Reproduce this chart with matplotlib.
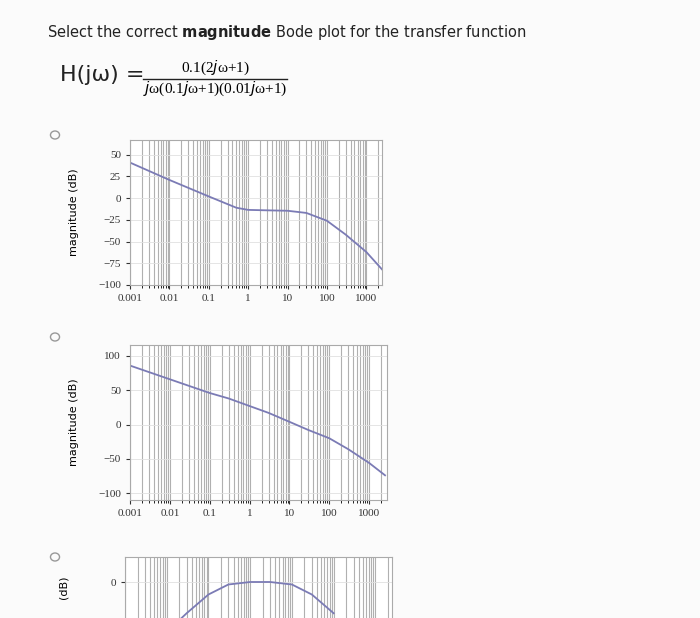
import matplotlib
matplotlib.use("Agg")
import matplotlib.pyplot as plt
from matplotlib.patches import Circle

# data
w1 = [0.001, 0.01, 0.1, 0.5, 1, 3, 10, 30, 100, 300, 1000, 2500]
db1 = [41, 21, 2, -11, -13.5, -14, -14.5, -17, -26, -42, -62, -82]
w2 = [0.001, 0.01, 0.1, 0.3, 1, 3, 10, 30, 100, 300, 1000, 2500]
db2 = [86, 66, 46, 38, 27, 17, 4, -8, -20, -36, -56, -74]
w3 = [0.001, 0.01, 0.03, 0.1, 0.3, 1, 3, 10, 30, 100]
db3 = [-60, -40, -25, -10, -2, 0, 0, -2, -10, -25]
xticks = [0.001, 0.01, 0.1, 1, 10, 100, 1000]
xlabels = ["0.001", "0.01", "0.1", "1", "10", "100", "1000"]
yt1 = [50, 25, 0, -25, -50, -75, -100]
yt2 = [100, 50, 0, -50, -100]

fig = plt.figure(figsize=(7, 6.18), dpi=100)
fig.patch.set_facecolor("#fbfbfb")
serif = "Liberation Serif"
lc = "#7b7bb5"

fig.text(47/700, 1-33/618, "Select the correct $\\bf{magnitude}$ Bode plot for the transfer function",
         fontsize=10.5, va="center", color="#222")
fig.text(60/700, 1-75/618, "H(jω) =", fontsize=16, va="center", color="#222")
fig.text(215/700, 1-68/618, "0.1(2$\\it{j}$ω+1)", fontsize=11, ha="center", va="center", family=serif)
fig.text(215/700, 1-89/618, "$\\it{j}$ω(0.1$\\it{j}$ω+1)(0.01$\\it{j}$ω+1)", fontsize=11, ha="center", va="center", family=serif)
fig.add_artist(plt.Line2D([143/700, 287/700], [1-79/618, 1-79/618], color="#222", lw=1))

for cy in [135, 337, 557]:
    fig.add_artist(Circle((55/700, 1-cy/618), 4/618, transform=fig.transFigure,
                          fill=False, ec="#999", lw=1))

def setup(ax, w, db, ylim, yt, xr):
    ax.semilogx(w, db, color=lc, lw=1.3)
    ax.set_xlim(0.001, xr)
    ax.set_ylim(*ylim)
    ax.set_yticks(yt)
    ax.set_yticklabels([str(v).replace("-", "−") for v in yt], family=serif, fontsize=8)
    ax.set_xticks(xticks)
    ax.set_xticklabels(xlabels, family=serif, fontsize=8)
    ax.grid(True, which="both", axis="x", color="#b0b0b0", lw=0.8)
    ax.grid(True, which="major", axis="y", color="#e0e0e0", lw=0.6)
    for s in ax.spines.values():
        s.set_color("#aaa")
    ax.tick_params(colors="#333", length=3)
    ax.set_facecolor("white")

ax1 = fig.add_axes([130/700, 1-285/618, 252/700, 145/618])
setup(ax1, w1, db1, (-100, 67), yt1, 2500)
ax1.set_ylabel("magnitude (dB)", fontsize=8, labelpad=14)
ax2 = fig.add_axes([130/700, 1-500/618, 257/700, 155/618])
setup(ax2, w2, db2, (-110, 116), yt2, 2800)
ax2.set_ylabel("magnitude (dB)", fontsize=8, labelpad=14)
ax3 = fig.add_axes([125/700, 1-707/618, 267/700, 150/618])
setup(ax3, w3, db3, (-100, 20), [0], 2500)
ax3.set_xticklabels([])
ax3.set_ylabel("(dB)", fontsize=8, labelpad=30, y=0.8)

fig.savefig("out.png", facecolor=fig.get_facecolor())
